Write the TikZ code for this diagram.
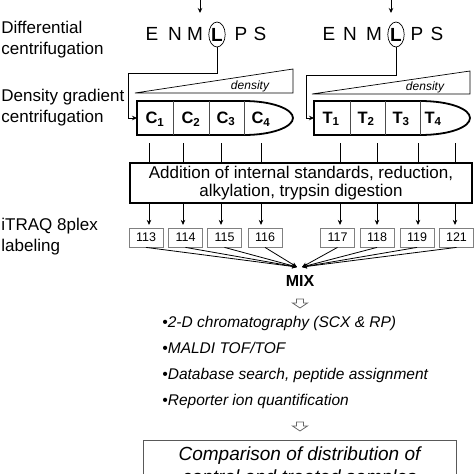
\documentclass[tikz,border=0pt]{standalone}
\usepackage{fontspec}
\setmainfont{Liberation Sans}
\usetikzlibrary{shapes.geometric,arrows.meta}

\begin{document}
\begin{tikzpicture}[x=1pt,y=-1pt,line width=0.9pt,>={Stealth[length=5pt,width=4.5pt]},
  lbl/.style={anchor=north west,align=left,inner sep=0pt,font=\fontsize{17}{20.5}\selectfont},
  letr/.style={inner sep=0pt,font=\fontsize{19}{21}\selectfont},
  cell/.style={inner sep=0pt,font=\fontsize{16.5}{18}\selectfont\bfseries},
  numbox/.style={draw=gray,line width=0.8pt,minimum width=34pt,minimum height=19pt,inner sep=0pt,font=\fontsize{12.5}{14}\selectfont},
  item/.style={anchor=base west,inner sep=0pt,font=\fontsize{15.5}{18}\selectfont\itshape},
  dens/.style={inner sep=0pt,font=\fontsize{12}{13}\selectfont\itshape},
  tube/.style={line width=1.8pt},
  hollow/.style={draw=gray!80!black,line width=0.8pt}]
\useasboundingbox (0,0) rectangle (474,474);
\clip (0,0) rectangle (474,474);

% step labels
\node[lbl] (difflbl) at (1,21) {Differential\\centrifugation};
\node[lbl] (denslbl) at (1,89) {Density gradient\\centrifugation};
\node[lbl] (itraqlbl) at (1,218) {iTRAQ 8plex\\labeling};

% fractions
\coordinate (inl) at (200,0);
\coordinate (inr) at (391,0);
\draw [->] (inl) -- ++(0,13);
\draw [->] (inr) -- ++(0,13);
\foreach \t/\x in {E/152,N/175,M/195,P/241,S/260}
  \node[letr] (l\t) at (\x,34) {\t};
\foreach \t/\x in {E/329,N/350,M/374,P/417,S/437}
  \node[letr] (r\t) at (\x,34) {\t};
\node[letr,ellipse,draw,line width=0.7pt,minimum width=15pt,minimum height=25pt] (lL) at (217,34.5) {\textbf{L}};
\node[letr,ellipse,draw,line width=0.7pt,minimum width=15pt,minimum height=25pt] (rL) at (396,34.5) {\textbf{L}};

% density wedges
\draw [line width=0.7pt] (135,93) -- (293,93) -- (293,69) -- cycle;
\draw [line width=0.7pt] (312,94) -- (470,94) -- (470,71) -- cycle;
\node[dens] (densl) at (250,86) {density};
\node[dens] (densr) at (425,87) {density};

% tubes
\draw [tube] (137,101) -- (244,101) .. controls (272,101) and (293,109) .. (293,118)
  .. controls (293,127) and (272,135) .. (244,135) -- (137,135) -- cycle;
\draw [tube] (314,101) -- (420,101) .. controls (450,101) and (470,109) .. (470,118)
  .. controls (470,127) and (450,135) .. (420,135) -- (314,135) -- cycle;
\foreach \x in {173,209,244,350,385,420}
  \draw [gray!60!black,line width=0.8pt] (\x,101) -- (\x,135);
\coordinate (ctube) at (137,118);
\coordinate (ttube) at (314,118);
\foreach \i/\x in {1/155,2/191,3/226,4/261}
  \node[cell] (c\i) at (\x,119) {C\textsubscript{\i}};
\foreach \i/\x in {1/331,2/366,3/401,4/433}
  \node[cell] (t\i) at (\x,119) {T\textsubscript{\i}};

\draw [->] (lL.south) -- ++(0,26) -| ([xshift=-9pt]ctube) -- (ctube);
\draw [->] (rL.south) -- ++(0,28) -| ([xshift=-8pt]ttube) -- (ttube);

% sample preparation
\node[draw,line width=1.8pt,minimum width=342pt,minimum height=40pt,inner sep=0pt,align=center,
  font=\fontsize{17}{18}\selectfont] (prep) at (301,183)
  {Addition of internal standards, reduction,\\alkylation, trypsin digestion};

\foreach \lbl/\ax/\bx in {113/149/146,114/183/185.5,115/221/224.5,116/261/265,
                          117/340/337.5,118/377/377,119/418/417,121/455/456.5}{
  \node[numbox] (n\lbl) at (\bx,237.5) {\lbl};
  \coordinate (a\lbl) at (\ax,143);
  \draw (a\lbl) -- (prep.north -| a\lbl);
  \draw [->] (prep.south -| a\lbl) -- ++(0,21);
}

% pooling
\node[inner sep=0pt,font=\fontsize{16}{18}\selectfont\bfseries] (mix) at (300,281) {MIX};
\coordinate (mixl) at (297,267);
\coordinate (mixr) at (302,267);
\foreach \lbl in {113,114,115,116}
  \draw [->,line width=0.8pt] (n\lbl.south) -- (mixl);
\foreach \lbl in {117,118,119,121}
  \draw [->,line width=0.8pt] (n\lbl.south) -- (mixr);

\foreach \y in {299,422}
  \draw [hollow] (296.5,\y) -- (303.5,\y) -- (303.5,\y+4) -- (307.5,\y+4) -- (300,\y+9)
    -- (292.5,\y+4) -- (296.5,\y+4) -- cycle;

% analysis
\node[item] (step1) at (162,327) {•2-D chromatography (SCX \& RP)};
\node[item] (step2) at (162,353) {•MALDI TOF/TOF};
\node[item] (step3) at (162,379) {•Database search, peptide assignment};
\node[item] (step4) at (162,405) {•Reporter ion quantification};

\node[draw=gray!70!black,line width=0.8pt,anchor=north,minimum width=313pt,inner xsep=0pt,inner ysep=6pt,
  align=center,font=\fontsize{19}{23}\selectfont\itshape] (cmp) at (299.5,440)
  {Comparison of distribution of\\control and treated samples};
\end{tikzpicture}
\end{document}
